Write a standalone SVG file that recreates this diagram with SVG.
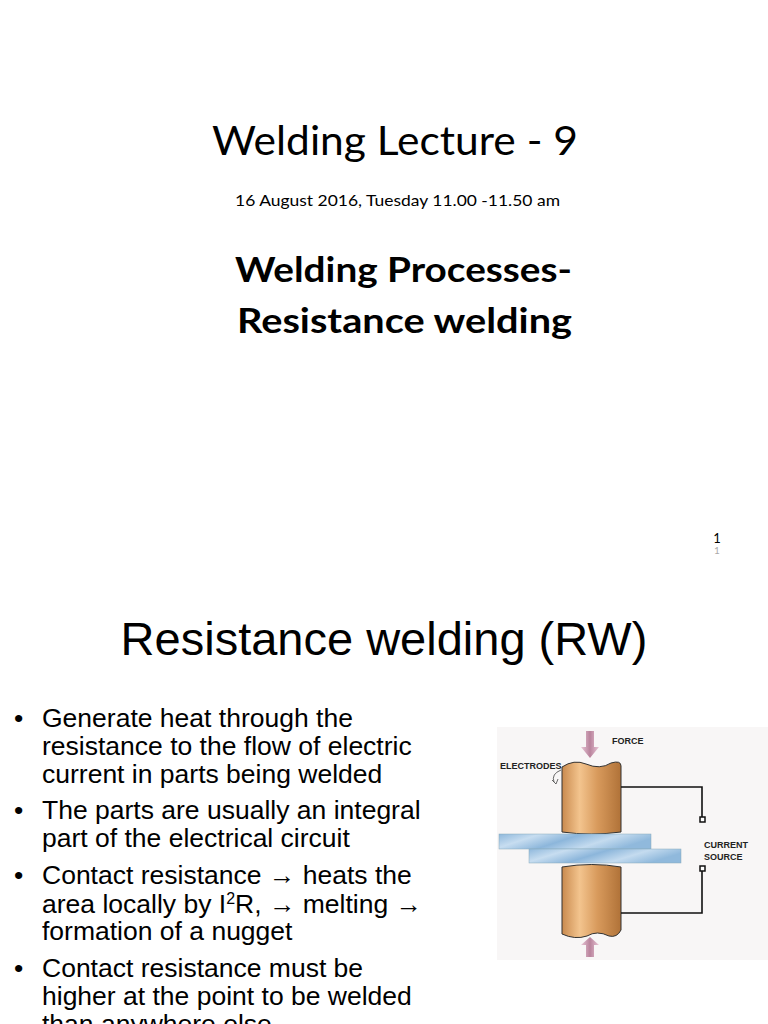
<svg xmlns="http://www.w3.org/2000/svg" width="768" height="1024" viewBox="0 0 768 1024">
<defs>
<style>
.t{font-family:Lato,"Open Sans",sans-serif;fill:#000}
.a{font-family:"Liberation Sans",Arial,sans-serif;fill:#000}
.b{font-size:26.5px}
.l{font-family:"Liberation Sans",Arial,sans-serif;font-weight:bold;font-size:9px;fill:#222}
</style>
<linearGradient id="cu" x1="0" x2="1">
<stop offset="0" stop-color="#c98a4e"/><stop offset="0.3" stop-color="#f3c48e"/><stop offset="0.6" stop-color="#d89a5c"/><stop offset="1" stop-color="#b07238"/>
</linearGradient>
<linearGradient id="pl" x1="0" y1="0" x2="1" y2="0.3">
<stop offset="0" stop-color="#8fb8dc"/><stop offset="0.25" stop-color="#c7ddf0"/><stop offset="0.5" stop-color="#8cb6db"/><stop offset="0.75" stop-color="#c4dbef"/><stop offset="1" stop-color="#90b9dc"/>
</linearGradient>
<linearGradient id="ar" x1="0" x2="1"><stop offset="0" stop-color="#e8c6d6"/><stop offset="0.5" stop-color="#b9839c"/><stop offset="1" stop-color="#e8c6d6"/></linearGradient>
</defs>
<rect width="768" height="1024" fill="#fff"/>
<text class="t" x="212" y="155" font-size="41" textLength="366" lengthAdjust="spacingAndGlyphs">Welding Lecture - 9</text>
<text class="t" x="235" y="206" font-size="16" textLength="325" lengthAdjust="spacingAndGlyphs">16 August 2016, Tuesday 11.00 -11.50 am</text>
<text class="t" x="235" y="282" font-size="34" font-weight="bold" textLength="337" lengthAdjust="spacingAndGlyphs">Welding Processes-</text>
<text class="t" x="237" y="333" font-size="34" font-weight="bold" textLength="335" lengthAdjust="spacingAndGlyphs">Resistance welding</text>
<text class="t" x="717" y="543" font-size="13" text-anchor="middle">1</text>
<text class="t" x="717" y="554" font-size="10" style="fill:#aaa" text-anchor="middle">1</text>
<text class="a" x="384" y="655" font-size="47" text-anchor="middle">Resistance welding (RW)</text>
<g class="a b">
<text x="14" y="727">•</text><text x="42" y="727">Generate heat through the</text>
<text x="42" y="755">resistance to the flow of electric</text>
<text x="42" y="783">current in parts being welded</text>
<text x="14" y="819">•</text><text x="42" y="819">The parts are usually an integral</text>
<text x="42" y="847">part of the electrical circuit</text>
<text x="14" y="884">•</text><text x="42" y="884">Contact resistance → heats the</text>
<text x="42" y="913">area locally by I<tspan font-size="16" dy="-9">2</tspan><tspan dy="9">R, → melting →</tspan></text>
<text x="42" y="940">formation of a nugget</text>
<text x="14" y="977">•</text><text x="42" y="977">Contact resistance must be</text>
<text x="42" y="1005">higher at the point to be welded</text>
<text x="42" y="1033">than anywhere else</text>
</g>
<g id="figure">
<rect x="497" y="727" width="271" height="233" fill="#f8f6f6"/>
<path d="M586 731h8v16h5l-9 11-9-11h5z" fill="url(#ar)"/>
<path d="M586 957h8v-12h5l-9-8-9 8h5z" fill="url(#ar)"/>
<path d="M562 767q12-8 24-3q14 6 25-1q10-3 10 3v66q-30 4-59 0z" fill="url(#cu)" stroke="#333" stroke-width="1"/>
<path d="M562 867q30-5 59 0v63q-4 8-12 6q-12-6-22 0q-12 4-25-2z" fill="url(#cu)" stroke="#333" stroke-width="1"/>
<rect x="499" y="834" width="152" height="15" fill="url(#pl)" stroke="#8ab" stroke-width="0.5"/>
<rect x="529" y="849" width="152" height="14" fill="url(#pl)" stroke="#8ab" stroke-width="0.5"/>
<g fill="none" stroke="#111" stroke-width="1.6">
<path d="M621 787H702V818"/><path d="M702 871V913H621"/>
</g>
<path d="M561 770q-10 4-7 12M552 780l4 4 2-5" fill="none" stroke="#444" stroke-width="0.8"/>
<rect x="700" y="817" width="5" height="5" fill="#fff" stroke="#111" stroke-width="1.5"/>
<rect x="700" y="866" width="5" height="5" fill="#fff" stroke="#111" stroke-width="1.5"/>
<text class="l" x="612" y="744">FORCE</text>
<text class="l" x="500" y="769">ELECTRODES</text>
<text class="l" x="704" y="848">CURRENT</text>
<text class="l" x="704" y="860">SOURCE</text>
</g>
</svg>
